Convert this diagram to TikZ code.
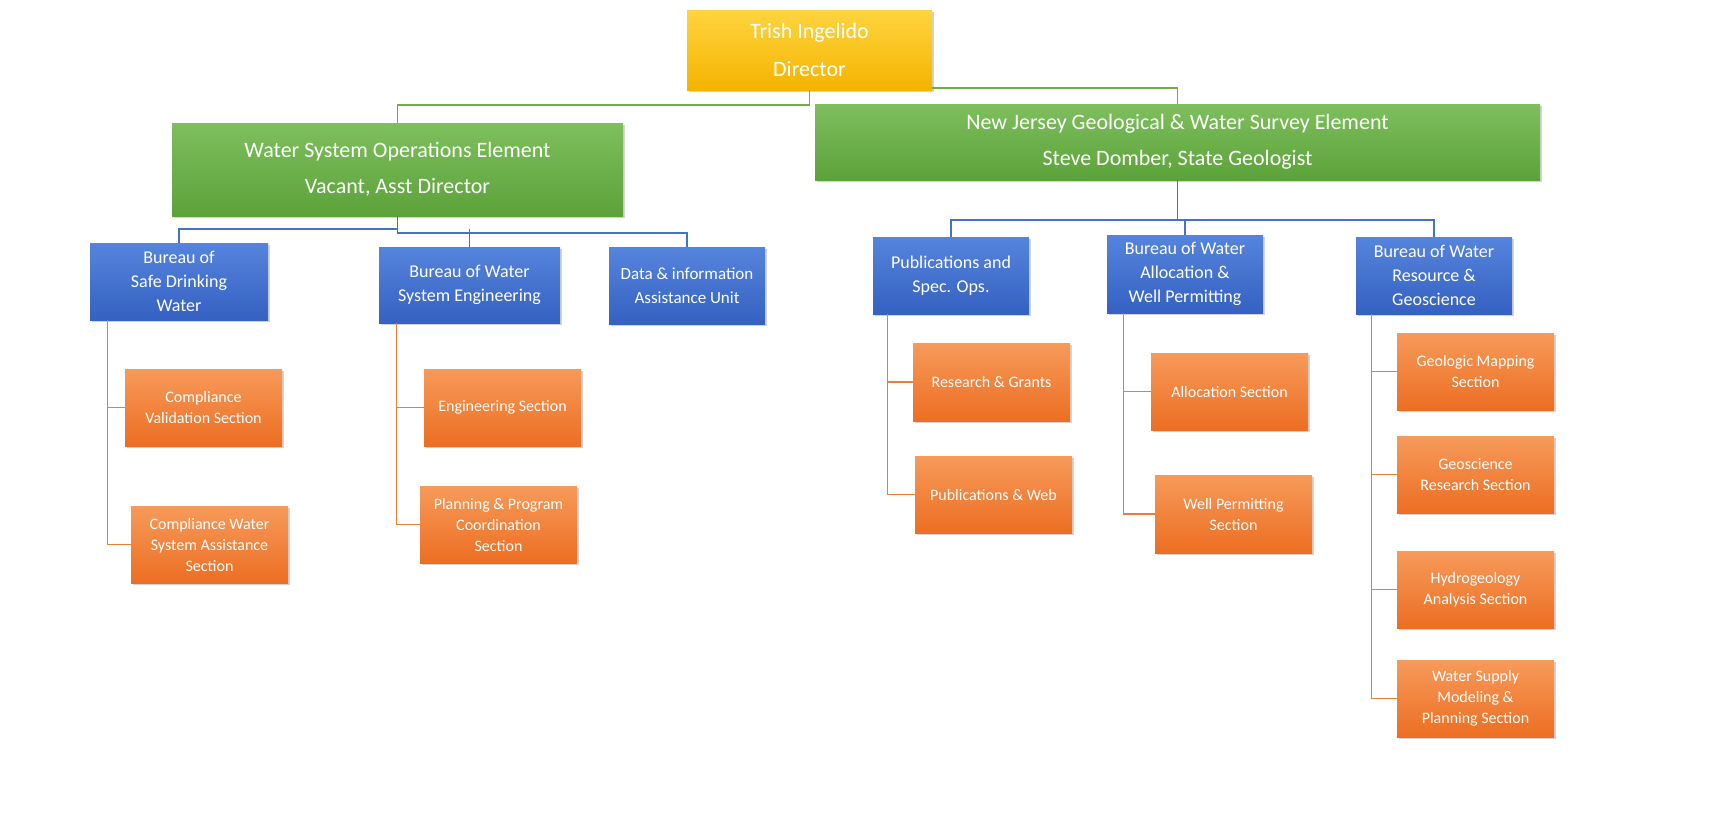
\documentclass[tikz,border=0pt]{standalone}
\usepackage{fontspec}
\setmainfont{Carlito}
\usetikzlibrary{shadows}
\definecolor{ylt}{HTML}{FFD43F}\definecolor{ydk}{HTML}{F4B400}
\definecolor{glt}{HTML}{7DBF5C}\definecolor{gdk}{HTML}{5CA23A}
\definecolor{blt}{HTML}{5584DC}\definecolor{bdk}{HTML}{3561C2}
\definecolor{olt}{HTML}{F79A5A}\definecolor{odk}{HTML}{EC6E22}
\definecolor{gline}{HTML}{70AD47}\definecolor{bline}{HTML}{4472C4}\definecolor{oline}{HTML}{ED7D31}
\tikzset{
 base/.style={rectangle,text=white,align=center,inner sep=2pt,drop shadow={opacity=0.35,shadow xshift=1.2pt,shadow yshift=-1.2pt}},
 yel/.style={base,top color=ylt,bottom color=ydk,font=\fontsize{11}{19}\selectfont},
 grn/.style={base,top color=glt,bottom color=gdk,font=\fontsize{11}{18}\selectfont},
 blu/.style={base,top color=blt,bottom color=bdk,font=\fontsize{9}{12}\selectfont},
 org/.style={base,top color=olt,bottom color=odk,font=\fontsize{8}{10.5}\selectfont},
 gl/.style={gline,line width=0.8pt},
 bl/.style={bline,line width=0.8pt},
 ol/.style={oline,line width=0.8pt},
}
\newcommand\bx[7]{\node[#1,minimum width={(#5-#3)*0.5pt},minimum height={(#6-#4)*0.5pt}] (#2) at ({(#3+#5)/2},{(#4+#6)/2}) {#7};}
\begin{document}
\begin{tikzpicture}[x=0.5pt,y=-0.5pt]
\useasboundingbox (0,0) rectangle (1734,832);
\coordinate (gbus) at (0,105);
\coordinate (gr2) at (0,88);
\coordinate (b1) at (0,229);
\coordinate (b1b) at (0,233);
\coordinate (b2) at (0,220);
\bx{yel}{dir}{687}{10}{932}{90}{Trish Ingelido\\Director}
\bx{grn}{wso}{172}{123}{623}{216}{Water System Operations Element\\Vacant, Asst Director}
\bx{grn}{nj}{815}{104}{1540}{180}{New Jersey Geological \& Water Survey Element\\Steve Domber, State Geologist}
\bx{blu}{bsdw}{90}{243}{268}{320}{Bureau of\\Safe Drinking\\Water}
\bx{blu}{bwse}{379}{247}{560}{323}{Bureau of Water\\System Engineering}
\bx{blu}{dia}{609}{247}{765}{324}{\fontsize{8.5}{11}\selectfont Data \& information\\\fontsize{8.5}{11}\selectfont Assistance Unit}
\bx{blu}{pub}{873}{237}{1029}{314}{Publications and\\Spec. Ops.}
\bx{blu}{bwa}{1107}{235}{1263}{313}{Bureau of Water\\Allocation \&\\Well Permitting}
\bx{blu}{bwr}{1356}{237}{1512}{314}{Bureau of Water\\Resource \&\\Geoscience}
\bx{org}{cv}{125}{369}{282}{446}{Compliance\\Validation Section}
\bx{org}{cw}{131}{506}{288}{583}{Compliance Water\\System Assistance\\Section}
\bx{org}{es}{424}{369}{581}{446}{Engineering Section}
\bx{org}{pp}{420}{486}{577}{563}{Planning \& Program\\Coordination\\Section}
\bx{org}{rg}{913}{343}{1070}{421}{Research \& Grants}
\bx{org}{pw}{915}{456}{1072}{533}{Publications \& Web}
\bx{org}{al}{1151}{353}{1308}{430}{Allocation Section}
\bx{org}{wp}{1155}{475}{1312}{553}{Well Permitting\\Section}
\bx{org}{gm}{1397}{333}{1554}{410}{Geologic Mapping\\Section}
\bx{org}{gr}{1397}{436}{1554}{513}{Geoscience\\Research Section}
\bx{org}{ha}{1397}{551}{1554}{628}{Hydrogeology\\Analysis Section}
\bx{org}{ws}{1397}{660}{1554}{737}{Water Supply\\Modeling \&\\Planning Section}
% green
\draw[gl] (dir.south) |- (wso.north |- gbus) -- (wso.north);
\draw[gl] (dir.east |- gr2) -| (nj.north);
% blue
\draw[bl] (wso.south) -- (wso.south |- b1);
\draw[bl] (bsdw.north) |- (wso.south |- b1);
\draw[bl] (wso.south |- b1) |- (dia.north |- b1b) -- (dia.north);
\draw[bl] (bwse.north) -- (bwse.north |- b1);
\draw[bl] (nj.south) -- (nj.south |- b2);
\draw[bl] (pub.north) |- (bwr.north |- b2) -- (bwr.north);
\draw[bl] (bwa.north) -- (bwa.north |- b2);
% orange
\draw[ol] ([xshift=9pt]bsdw.south west) |- (cw.west);
\draw[ol] ([xshift=9pt]bsdw.south west) |- (cv.west);
\draw[ol] ([xshift=9pt]bwse.south west) |- (pp.west);
\draw[ol] ([xshift=9pt]bwse.south west) |- (es.west);
\draw[ol] ([xshift=7.5pt]pub.south west) |- (pw.west);
\draw[ol] ([xshift=7.5pt]pub.south west) |- (rg.west);
\draw[ol] ([xshift=8.5pt]bwa.south west) |- (wp.west);
\draw[ol] ([xshift=8.5pt]bwa.south west) |- (al.west);
\foreach \t in {gm,gr,ha,ws} \draw[ol] ([xshift=8pt]bwr.south west) |- (\t.west);
\end{tikzpicture}
\end{document}
